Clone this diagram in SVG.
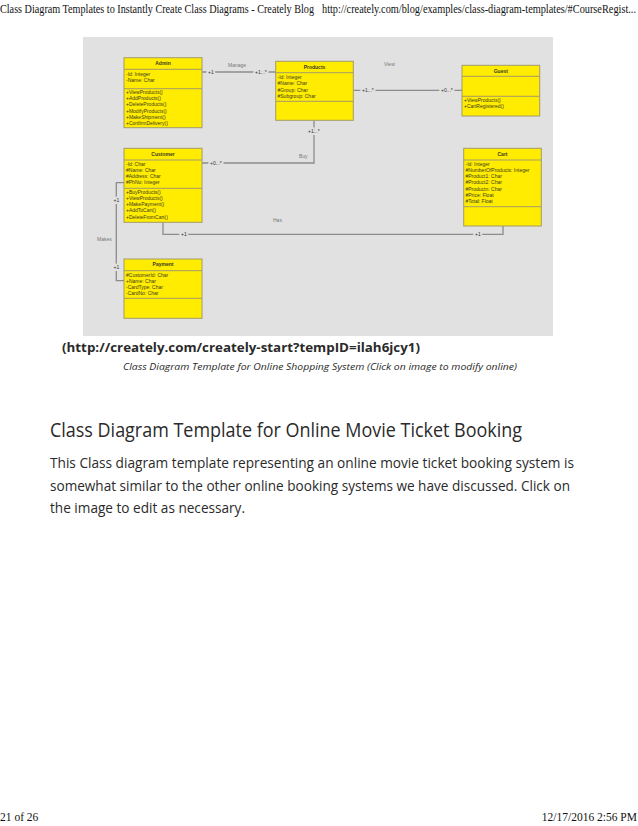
<svg xmlns="http://www.w3.org/2000/svg" width="638" height="826" viewBox="0 0 638 826">
<style>
.pg{font-family:"Liberation Serif",serif;font-size:11.5px;fill:#111}
.box{fill:#ffec00;stroke:#a39c6a;stroke-width:1}
.t{font-family:"Liberation Sans",Arial,sans-serif;font-size:5px;fill:#3a3a20}
.tb{font-family:"Liberation Sans",Arial,sans-serif;font-size:5px;font-weight:bold;fill:#3a3a20}
.lbl{font-family:"Liberation Sans",Arial,sans-serif;font-size:5px;fill:#777}
.m{font-family:"Liberation Sans",Arial,sans-serif;font-size:5px;fill:#333;stroke:#e1e1e1;stroke-width:4;paint-order:stroke;stroke-linejoin:round}
.ln{fill:none;stroke:#8c8c8c;stroke-width:1.3}
.raw{font-family:"Open Sans","Noto Sans",sans-serif;fill:#2a2a2a}
</style>
<rect width="638" height="826" fill="#fff"/>
<text class="pg" x="0" y="12.5" textLength="314" lengthAdjust="spacingAndGlyphs">Class Diagram Templates to Instantly Create Class Diagrams - Creately Blog</text>
<text class="pg" x="322" y="12.5" textLength="314" lengthAdjust="spacingAndGlyphs">http://creately.com/blog/examples/class-diagram-templates/#CourseRegist...</text>
<rect x="83" y="37" width="470" height="299" fill="#e1e1e1"/>
<g id="connectors">
<path class="ln" d="M202 72 H275.5"/>
<path class="ln" d="M353.5 90.3 H462"/>
<path class="ln" d="M314 120.5 V163 H202"/>
<path class="ln" d="M124 182.7 H116.3 V280.7 H124"/>
<path class="ln" d="M163 222.5 V234.3 H503 V226"/>
<text class="lbl" x="228" y="67">Manage</text>
<text class="m" x="208" y="74">+1</text>
<text class="m" x="255" y="74">+1...*</text>
<text class="lbl" x="384" y="66">View</text>
<text class="m" x="362" y="92">+1...*</text>
<text class="m" x="441" y="92">+0...*</text>
<text class="m" x="308" y="133">+1...*</text>
<text class="lbl" x="299" y="158">Buy</text>
<text class="m" x="210" y="165">+0...*</text>
<text class="m" x="113.5" y="202">+1</text>
<text class="lbl" x="97" y="241">Makes</text>
<text class="m" x="113.5" y="269">+1</text>
<text class="lbl" x="273" y="222">Has</text>
<text class="m" x="181" y="236">+1</text>
<text class="m" x="475" y="236">+1</text>
</g>
<g id="admin">
<rect class="box" x="124" y="57.7" width="78" height="70"/>
<path class="box" d="M124 69.3 H202 M124 88.7 H202"/>
<text class="tb" x="163" y="64.5" text-anchor="middle">Admin</text>
<text class="t" x="126" y="75.5">-Id: Integer</text>
<text class="t" x="126" y="81.7">-Name: Char</text>
<text class="t" x="126" y="94">+ViewProducts()</text>
<text class="t" x="126" y="100.2">+AddProducts()</text>
<text class="t" x="126" y="106.4">+DeleteProducts()</text>
<text class="t" x="126" y="112.6">+ModifyProducts()</text>
<text class="t" x="126" y="118.8">+MakeShipment()</text>
<text class="t" x="126" y="125">+ConfirmDelivery()</text>
</g>
<g id="products">
<rect class="box" x="275.7" y="61.3" width="77.6" height="59"/>
<path class="box" d="M275.7 72.7 H353.3 M275.7 101.3 H353.3"/>
<text class="tb" x="314.5" y="68.5" text-anchor="middle">Products</text>
<text class="t" x="277.5" y="78.5">-Id: Integer</text>
<text class="t" x="277.5" y="85">#Name: Char</text>
<text class="t" x="277.5" y="91.5">#Group: Char</text>
<text class="t" x="277.5" y="98">#Subgroup: Char</text>
</g>
<g id="guest">
<rect class="box" x="462" y="65.3" width="77.7" height="50.7"/>
<path class="box" d="M462 76.3 H539.7 M462 96.3 H539.7"/>
<text class="tb" x="500.8" y="72.5" text-anchor="middle">Guest</text>
<text class="t" x="464" y="101.5">+ViewProducts()</text>
<text class="t" x="464" y="107.7">+CartRegistered()</text>
</g>
<g id="customer">
<rect class="box" x="124" y="148.3" width="78" height="74"/>
<path class="box" d="M124 160 H202 M124 188.3 H202"/>
<text class="tb" x="163" y="155.5" text-anchor="middle">Customer</text>
<text class="t" x="126" y="165.8">-Id: Char</text>
<text class="t" x="126" y="172">#Name: Char</text>
<text class="t" x="126" y="178.2">#Address: Char</text>
<text class="t" x="126" y="184.4">#PhNo: Integer</text>
<text class="t" x="126" y="193.7">+BuyProducts()</text>
<text class="t" x="126" y="199.9">+ViewProducts()</text>
<text class="t" x="126" y="206.1">+MakePayment()</text>
<text class="t" x="126" y="212.3">+AddToCart()</text>
<text class="t" x="126" y="218.5">+DeleteFromCart()</text>
</g>
<g id="cart">
<rect class="box" x="463.7" y="148.3" width="77.6" height="77.7"/>
<path class="box" d="M463.7 160 H541.3 M463.7 206.7 H541.3"/>
<text class="tb" x="502.5" y="155.5" text-anchor="middle">Cart</text>
<text class="t" x="465.5" y="165.8">-Id: Integer</text>
<text class="t" x="465.5" y="172">#NumberOfProducts: Integer</text>
<text class="t" x="465.5" y="178.2">#Product1: Char</text>
<text class="t" x="465.5" y="184.4">#Product2: Char</text>
<text class="t" x="465.5" y="190.6">#Productn: Char</text>
<text class="t" x="465.5" y="196.8">#Price: Float</text>
<text class="t" x="465.5" y="203">#Total: Float</text>
</g>
<g id="payment">
<rect class="box" x="124" y="259" width="78" height="59.3"/>
<path class="box" d="M124 270.7 H202 M124 298.3 H202"/>
<text class="tb" x="163" y="266.2" text-anchor="middle">Payment</text>
<text class="t" x="126" y="276.5">#CustomerId: Char</text>
<text class="t" x="126" y="282.7">+Name: Char</text>
<text class="t" x="126" y="288.9">-CardType: Char</text>
<text class="t" x="126" y="295.1">-CardNo: Char</text>
</g>
<text class="raw" x="62" y="352" font-size="13" font-weight="bold" fill="#222" textLength="358" lengthAdjust="spacingAndGlyphs">(http://creately.com/creately-start?tempID=ilah6jcy1)</text>
<text class="raw" x="123" y="370" font-size="9.5" font-style="italic" fill="#555" textLength="394" lengthAdjust="spacingAndGlyphs">Class Diagram Template for Online Shopping System (Click on image to modify online)</text>
<text class="raw" x="50" y="437" font-size="19.5" textLength="472" lengthAdjust="spacingAndGlyphs">Class Diagram Template for Online Movie Ticket Booking</text>
<text class="raw" x="50" y="468" font-size="14" textLength="524" lengthAdjust="spacingAndGlyphs">This Class diagram template representing an online movie ticket booking system is</text>
<text class="raw" x="50" y="491" font-size="14" textLength="520" lengthAdjust="spacingAndGlyphs">somewhat similar to the other online booking systems we have discussed. Click on</text>
<text class="raw" x="50" y="513" font-size="14" textLength="195" lengthAdjust="spacingAndGlyphs">the image to edit as necessary.</text>
<text class="pg" x="0" y="821">21 of 26</text>
<text class="pg" x="637" y="821" text-anchor="end">12/17/2016 2:56 PM</text>
</svg>
